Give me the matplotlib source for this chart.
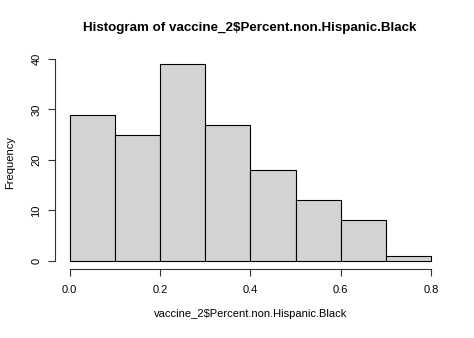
import numpy as np
import matplotlib.pyplot as plt

plt.rcParams['font.family'] = ['Liberation Sans', 'DejaVu Sans']

# Histogram bins and counts
bordes = [0.0, 0.1, 0.2, 0.3, 0.4, 0.5, 0.6, 0.7, 0.8]
frecuencias = [29, 25, 39, 27, 18, 12, 8, 1]
x_ticks = [0.0, 0.2, 0.4, 0.6, 0.8]
y_ticks = [0, 10, 20, 30, 40]

fig = plt.figure(figsize=(4.74, 3.38), dpi=100)
ax = fig.add_axes([0.1165, 0.2053, 0.9400 - 0.1165, 0.8337 - 0.2053])

izq = np.array(bordes[:-1])
anchos = np.diff(bordes)
ax.bar(izq, frecuencias, width=anchos, align='edge', color='#D3D3D3',
       edgecolor='black', linewidth=0.8)

ax.set_xlim(-0.032, 0.832)
ax.set_ylim(-1.56, 40.56)

for s in ['top', 'right']:
    ax.spines[s].set_visible(False)
ax.spines['bottom'].set_bounds(0, 0.8)
ax.spines['left'].set_bounds(0, 40)
ax.spines['bottom'].set_color('#333333')
ax.spines['left'].set_color('#333333')

ax.set_xticks(x_ticks)
ax.set_xticklabels(['0.0', '0.2', '0.4', '0.6', '0.8'])
ax.set_yticks(y_ticks)
ax.set_yticklabels([str(v) for v in y_ticks], rotation=90, va='center')
ax.tick_params(axis='both', length=5, width=0.8, color='#333333', labelsize=8)
ax.tick_params(axis='x', pad=7)
ax.tick_params(axis='y', pad=5)

ax.set_xlabel('vaccine_2$Percent.non.Hispanic.Black', fontsize=8, labelpad=10)
ax.set_ylabel('Frequency', fontsize=8, labelpad=12)
fig.text(0.527, 0.916, 'Histogram of vaccine_2$Percent.non.Hispanic.Black',
         ha='center', va='center', fontsize=9.6, fontweight='bold')

plt.savefig('out.png', dpi=100)
plt.close()
